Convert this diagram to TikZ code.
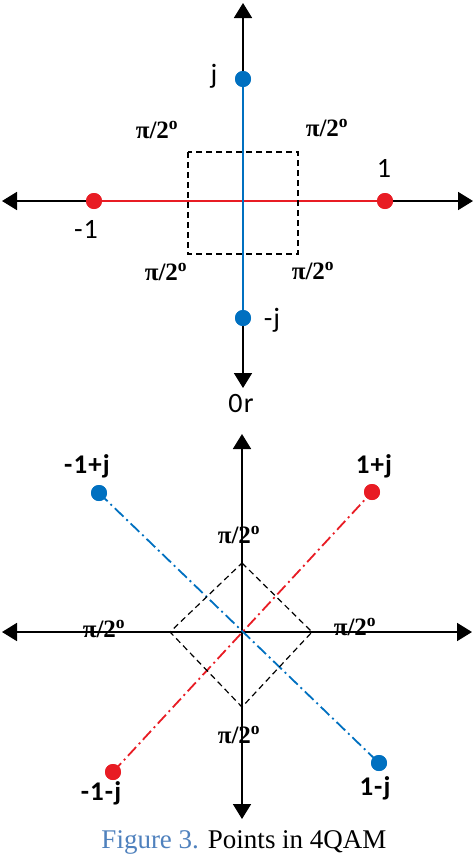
\documentclass[tikz,border=0pt]{standalone}
\usepackage{fontspec}
\setmainfont{Liberation Serif}
\newfontfamily\lblfont[LetterSpace=4]{Carlito}
\usetikzlibrary{arrows.meta}
\definecolor{ptred}{RGB}{232,28,36}
\definecolor{ptblue}{RGB}{0,112,192}
\definecolor{capblue}{RGB}{79,129,189}
\tikzset{
  axis/.style={line width=1.8pt,-{Triangle[length=15pt,width=18pt]}},
  dot/.style={circle,inner sep=0pt,minimum size=16pt},
  reddot/.style={dot,fill=ptred},
  bluedot/.style={dot,fill=ptblue},
  lbl/.style={font=\lblfont\bfseries\fontsize{27}{29}\selectfont,inner sep=0pt},
  lblr/.style={font=\lblfont\fontsize{28}{30}\selectfont,inner sep=0pt},
  ang/.style={font=\bfseries\fontsize{25}{27}\selectfont,inner sep=0pt},
  dbox/.style={black,line width=1.2pt,dash pattern=on 6pt off 4pt},
  dd/.style={line width=1.8pt,dash pattern=on 12pt off 4pt on 2pt off 4pt},
}
\newcommand{\pitwo}{π/2\textsuperscript{o}}
\begin{document}
\begin{tikzpicture}[x=1pt,y=-1pt]
\useasboundingbox (0,0) rectangle (474,854);
% ---------- top diagram ----------
\coordinate (o1) at (243,201);
\coordinate (t1) at (243,3);
\coordinate (b1) at (243,388);
\coordinate (l1) at (2,201);
\coordinate (r1) at (473,201);
\draw[axis] (o1) -- (t1);
\draw[axis] (o1) -- (b1);
\draw[axis] (o1) -- (l1);
\draw[axis] (o1) -- (r1);
\node[reddot] (m1) at (94,201) {};
\node[reddot] (p1) at (385,201) {};
\node[bluedot] (pj) at (243,79) {};
\node[bluedot] (mj) at (243,318) {};
\draw[ptred,line width=2.4pt] (m1) -- (p1);
\draw[ptblue,line width=2.4pt] (pj) -- (mj);
\node[reddot] at (94,201) {};
\node[reddot] at (385,201) {};
\node[bluedot] at (243,79) {};
\node[bluedot] at (243,318) {};
\draw[dbox] (188,152) rectangle (298,254);
\node[lblr] (lj) at (214,76) {j};
\node[lblr] (lmj) at (272,320) {-j};
\node[lblr] (l1l) at (384,168) {1};
\node[lblr] (lm1) at (86,229) {-1};
\node[lblr] (lor) at (241,404) {0r};
\node[ang] (a1) at (157,130) {\pitwo};
\node[ang] (a2) at (327,128) {\pitwo};
\node[ang] (a3) at (166,272) {\pitwo};
\node[ang] (a4) at (313,271) {\pitwo};
% ---------- bottom diagram ----------
\coordinate (o2) at (242,632);
\coordinate (t2) at (242,434);
\coordinate (b2) at (242,819);
\coordinate (l2) at (2,632);
\coordinate (r2) at (472,632);
\draw[axis] (o2) -- (t2);
\draw[axis] (o2) -- (b2);
\draw[axis] (o2) -- (l2);
\draw[axis] (o2) -- (r2);
\node[bluedot] (q2) at (99,493) {};
\node[reddot] (q1) at (372,492) {};
\node[reddot] (q3) at (113,772) {};
\node[bluedot] (q4) at (379,763) {};
\draw[dd,ptblue] (q2.center) -- (q4.center);
\draw[dd,ptred] (q3.center) -- (q1.center);
\node[bluedot] at (99,493) {};
\node[reddot] at (372,492) {};
\node[reddot] at (113,772) {};
\node[bluedot] at (379,763) {};
\coordinate (dt) at (242,563);
\coordinate (dr) at (312,632);
\coordinate (db) at (242,707);
\coordinate (dl) at (170,632);
\draw[dbox] (dt) -- (dr) -- (db) -- (dl) -- cycle;
\node[lbl] (lq2) at (87,466) {-1+j};
\node[lbl] (lq1) at (374,466) {1+j};
\node[lbl] (lq3) at (101,793) {-1-j};
\node[lbl] (lq4) at (375,788) {1-j};
\node[ang] (b1a) at (239,535) {\pitwo};
\node[ang] (b2a) at (104,629) {\pitwo};
\node[ang] (b3a) at (355,627) {\pitwo};
\node[ang] (b4a) at (239,735) {\pitwo};
% caption
\node[inner sep=0pt,font=\fontsize{27}{29}\selectfont] (cap) at (244,842) {\textcolor{capblue}{Figure 3.} Points in 4QAM};
\end{tikzpicture}
\end{document}
